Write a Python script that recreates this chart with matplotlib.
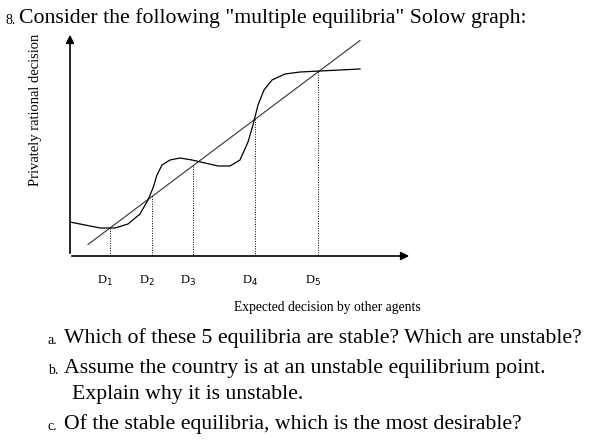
import matplotlib
matplotlib.use("Agg")
import matplotlib.pyplot as plt

curve_x = [70,85,100,115,128,140,148,153,157,162,170,180,192,205,218,230,240,248,253,258,264,272,285,300,320,340,360]
curve_y = [222,225,228,228,224,214,200,188,175,165,160,158,160,163,166,166,160,142,125,105,90,80,74,72,71,70,69]
line_x = [88,360]
line_y = [244.5,40.5]
eq_x = [110,152,193,255,318]
eq_y = [228,196.5,165.8,119,72]
eq_labels = ["D$_1$","D$_2$","D$_3$","D$_4$","D$_5$"]

plt.rcParams['font.family'] = ['Liberation Serif', 'DejaVu Serif']
fig = plt.figure(figsize=(5.91,4.40), dpi=100)
ax = fig.add_axes([0,0,1,1])
ax.set_xlim(0,591); ax.set_ylim(440,0); ax.axis('off')

ax.annotate('', xy=(70,32), xytext=(70,256), arrowprops=dict(arrowstyle='-|>', color='black', lw=1.2, mutation_scale=12))
ax.annotate('', xy=(412,256), xytext=(69,256), arrowprops=dict(arrowstyle='-|>', color='black', lw=1.2, mutation_scale=12))
ax.plot(line_x, line_y, color='#333', lw=0.8)
ax.plot(curve_x, curve_y, color='black', lw=0.9)
for x, y, l in zip(eq_x, eq_y, eq_labels):
    ax.plot([x,x],[y,256], color='black', lw=0.7, ls=(0,(1,1.5)))
    ax.text(x-5, 281, l, fontsize=9, ha='center', va='center')

ax.text(327, 308, "Expected decision by other agents", fontsize=9.8, ha='center', va='center')
ax.text(36, 110, "Privately rational decision", fontsize=10.5, rotation=90, ha='center', va='center')

ax.text(6, 20, "8.", fontsize=10, va='center')
ax.text(19, 18, 'Consider the following "multiple equilibria" Solow graph:', fontsize=15.7, va='center')
rows = [("a.", "Which of these 5 equilibria are stable? Which are unstable?", 338),
        ("b.", "Assume the country is at an unstable equilibrium point.", 368),
        ("c.", "Of the stable equilibria, which is the most desirable?", 424)]
for p, t, y in rows:
    ax.text(48, y+2, p, fontsize=10, va='center')
    ax.text(64, y, t, fontsize=15.7, va='center')
ax.text(72, 394, "Explain why it is unstable.", fontsize=15.7, va='center')
fig.savefig("out.png", dpi=100)
